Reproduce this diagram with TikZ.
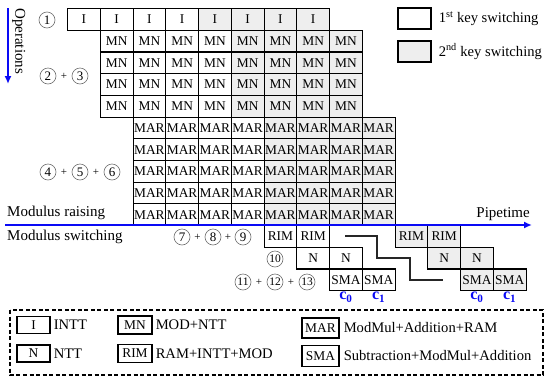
\documentclass[tikz,border=0pt]{standalone}
\usepackage{fontspec}
\setmainfont{Liberation Serif}
\usepackage{xcolor}
\usepackage{tikz}
\usetikzlibrary{arrows.meta,positioning}
\definecolor{keygray}{HTML}{EEEEEE}
\definecolor{timeblue}{HTML}{0A0AF5}
\definecolor{ring}{HTML}{6E6E6E}
\tikzset{
  >={Latex[length=8pt,width=7pt]},
  cell/.style={draw,line width=1.1pt,minimum width=32.75pt,minimum height=21.7pt,inner sep=0pt,anchor=north west,font=\fontsize{13.4}{14}\selectfont},
  stage/.style={circle,draw=ring,line width=0.6pt,inner sep=0pt,minimum size=16pt,font=\fontsize{13}{13}\selectfont},
  wide/.style={font=\fontsize{11.5}{12}\selectfont},
  plus/.style={inner sep=0pt,font=\fontsize{11}{12}\selectfont},
  sidelabel/.style={anchor=west,inner sep=0pt,font=\fontsize{15}{16}\selectfont},
  clabel/.style={inner sep=1pt,text=timeblue,font=\fontsize{16}{16}\selectfont\bfseries},
  keybox/.style={draw,line width=1.1pt,inner sep=0pt,font=\fontsize{13.4}{14}\selectfont},
  keytext/.style={anchor=west,inner sep=0pt,font=\fontsize{14.6}{15}\selectfont},
  timeaxis/.style={->,line width=1.6pt,draw=timeblue},
  stepline/.style={line width=1.1pt,draw=black!85}
}
\begin{document}
\begin{tikzpicture}[x=1pt,y=-1pt]
  \useasboundingbox (0,0) rectangle (550,381);
  % pipeline, first part
  \foreach \lo/\hi/\tone in {0/3/white,4/7/keygray}
    \foreach \c in {\lo,...,\hi}
      \node[cell,fill=\tone] (i-\c) at ({67+32.75*\c},8) {I};
  \foreach \r in {1,...,4}
    \foreach \lo/\hi/\tone in {1/4/white,5/8/keygray}
      \foreach \c in {\lo,...,\hi}
        \node[cell,fill=\tone] (mn-\r-\c) at ({67+32.75*\c},{8+21.7*\r}) {MN};
  \foreach \r in {5,...,9}
    \foreach \lo/\hi/\tone in {2/5/white,6/9/keygray}
      \foreach \c in {\lo,...,\hi}
        \node[cell,fill=\tone] (mar-\r-\c) at ({67+32.75*\c},{8+21.7*\r}) {MAR};
  % modulus switching
  \foreach \c/\tone in {6/white,7/white,10/keygray,11/keygray}
    \node[cell,fill=\tone] (rim-\c) at ({67+32.75*\c},225) {RIM};
  \foreach \c/\tone in {7/white,8/white,11/keygray,12/keygray}
    \node[cell,fill=\tone] (n-\c) at ({67+32.75*\c},246.7) {N};
  \foreach \c/\tone in {8/white,9/white,12/keygray,13/keygray}
    \node[cell,fill=\tone] (sma-\c) at ({67+32.75*\c},268.4) {SMA};
  \node[clabel,below=0pt of sma-8] (c0a) {c\textsubscript{0}};
  \node[clabel,below=0pt of sma-9] (c1a) {c\textsubscript{1}};
  \node[clabel,below=0pt of sma-12] (c0b) {c\textsubscript{0}};
  \node[clabel,below=0pt of sma-13] (c1b) {c\textsubscript{1}};
  \draw[stepline] (345,236) -| (377,258) -| (410,280) -- (443,280);

  % axes
  \coordinate (opstart) at (8,8);
  \coordinate (opend) at (8,84);
  \draw[timeaxis] (opstart) -- (opend);
  \node[rotate=-90,anchor=south west,inner sep=0pt,font=\fontsize{15}{16}\selectfont] (ops) at (12,8) {Operations};
  \coordinate (tstart) at (5,225);
  \coordinate (tend) at (532,225);
  \draw[timeaxis] (tstart) -- (tend);
  \node[anchor=east,inner sep=0pt,font=\fontsize{15}{16}\selectfont] (pipe) at (530,214) {Pipetime};
  \node[sidelabel] (raise) at (7,213) {Modulus raising};
  \node[sidelabel] (switch) at (7,237) {Modulus switching};

  % stage numbers
  \node[stage] (s1) at (47,20) {1};
  \node[stage] (s2) at (48,76) {2};
  \node[plus] (p23) at (64,76) {+};
  \node[stage] (s3) at (80,76) {3};
  \node[stage] (s4) at (48,172) {4};
  \node[plus] (p45) at (64,172) {+};
  \node[stage] (s5) at (80,172) {5};
  \node[plus] (p56) at (96,172) {+};
  \node[stage] (s6) at (112,172) {6};
  \node[stage] (s7) at (182,237) {7};
  \node[plus] (p78) at (197.5,237) {+};
  \node[stage] (s8) at (213,237) {8};
  \node[plus] (p89) at (228,237) {+};
  \node[stage] (s9) at (243,237) {9};
  \node[stage,wide] (s10) at (275,259) {10};
  \node[stage,wide] (s11) at (243,282) {11};
  \node[plus] (p1112) at (259,282) {+};
  \node[stage,wide] (s12) at (275,282) {12};
  \node[plus] (p1213) at (291,282) {+};
  \node[stage,wide] (s13) at (307,282) {13};

  % key switching legend
  \node[keybox,fill=white,minimum width=33pt,minimum height=21pt] (ks1) at (414.5,18.5) {};
  \node[keytext,right=7pt of ks1] (ks1t) {1\textsuperscript{st} key switching};
  \node[keybox,fill=keygray,minimum width=33pt,minimum height=21pt] (ks2) at (414.5,51.5) {};
  \node[keytext,right=7pt of ks2] (ks2t) {2\textsuperscript{nd} key switching};

  % operation legend
  \draw[line width=1.1pt,dash pattern=on 4pt off 2.5pt] (10,310) rectangle (543,375);
  \node[keybox,minimum width=33pt,minimum height=17pt] (kI) at (33.5,325) {I};
  \node[keytext,right=3pt of kI] (kIt) {INTT};
  \node[keybox,minimum width=33pt,minimum height=17pt] (kN) at (33.5,353.5) {N};
  \node[keytext,right=3pt of kN] (kNt) {NTT};
  \node[keybox,minimum width=34pt,minimum height=18pt] (kMN) at (135,325) {MN};
  \node[keytext,right=3pt of kMN] (kMNt) {MOD+NTT};
  \node[keybox,minimum width=34pt,minimum height=18pt] (kRIM) at (135,353.5) {RIM};
  \node[keytext,right=3pt of kRIM] (kRIMt) {RAM+INTT+MOD};
  \node[keybox,minimum width=37pt,minimum height=20pt] (kMAR) at (320.5,328) {MAR};
  \node[keytext,right=4pt of kMAR] (kMARt) {ModMul+Addition+RAM};
  \node[keybox,minimum width=37pt,minimum height=21pt] (kSMA) at (320.5,356) {SMA};
  \node[keytext,right=4pt of kSMA] (kSMAt) {Subtraction+ModMul+Addition};
\end{tikzpicture}
\end{document}
